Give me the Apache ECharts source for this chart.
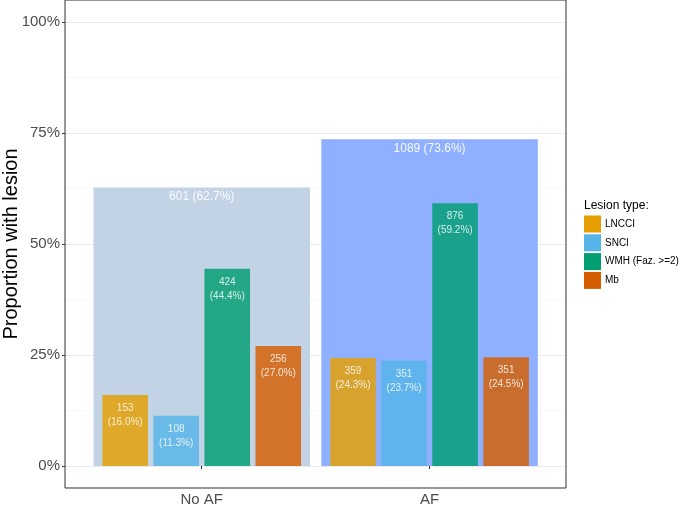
<!DOCTYPE html>
<html>
<head>
<meta charset="utf-8">
<script src="https://cdn.jsdelivr.net/npm/echarts@6/dist/echarts.min.js"></script>
<style>html,body{margin:0;padding:0;background:#fff;}#c{width:685px;height:505px;}</style>
</head>
<body>
<div id="c"></div>
<script>
var categories = ['No AF', 'AF'];
var totalProp = [0.627, 0.736];
var totalCount = [601, 1089];
var lesionTypes = ['LNCCI', 'SNCI', 'WMH (Faz. >=2)', 'Mb'];
var lnccIProp = [0.160, 0.243];
var lnccICount = [153, 359];
var snciProp = [0.113, 0.237];
var snciCount = [108, 351];
var wmhProp = [0.444, 0.592];
var wmhCount = [424, 876];
var mbProp = [0.270, 0.245];
var mbCount = [256, 351];
var yTicks = [0, 0.25, 0.5, 0.75, 1];

var colors = ['#E69F00', '#56B4E9', '#009E73', '#D55E00'];
var props = [lnccIProp, snciProp, wmhProp, mbProp];
var counts = [lnccICount, snciCount, wmhCount, mbCount];

var chart = echarts.init(document.getElementById('c'));

var series = [{
  name: 'total', type: 'bar', xAxisIndex: 2, yAxisIndex: 2,
  barWidth: '95%', silent: true,
  data: totalProp.map(function (v, i) {
    return { value: v, itemStyle: { color: i === 0 ? '#c1d3e4' : '#8fb0fe' } };
  }),
  label: {
    show: true, position: 'insideTop', distance: 3,
    color: 'rgba(255,255,255,0.92)', fontSize: 12, fontFamily: 'Liberation Sans, Arial',
    formatter: function (p) { return totalCount[p.dataIndex] + ' (' + (totalProp[p.dataIndex] * 100).toFixed(1) + '%)'; }
  },
  z: 1
}];
lesionTypes.forEach(function (name, k) {
  series.push({
    name: name, type: 'bar', xAxisIndex: 1, yAxisIndex: 1,
    barWidth: '20%', barGap: '12%',
    itemStyle: { color: colors[k], opacity: 0.82 },
    data: props[k],
    label: {
      show: true, position: 'insideTop', distance: 6,
      color: '#ffffff', fontSize: 10, lineHeight: 14, fontFamily: 'Liberation Sans, Arial',
      formatter: function (p) { return counts[k][p.dataIndex] + '\n(' + (props[k][p.dataIndex] * 100).toFixed(1) + '%)'; }
    },
    z: 3
  });
});

chart.setOption({
  animation: false,
  title: {
    text: 'Lesion type:', left: 584, top: 200, padding: 0,
    textStyle: { fontSize: 12, fontWeight: 'normal', color: '#000', fontFamily: 'Liberation Sans, Arial' }
  },
  legend: {
    data: lesionTypes, orient: 'vertical', left: 584, top: 215.5, padding: 0,
    itemWidth: 17, itemHeight: 17, itemGap: 1.8, icon: 'rect',
    itemStyle: { opacity: 1 },
    textStyle: { fontSize: 10, color: '#000', fontFamily: 'Liberation Sans, Arial', padding: [0, 0, 0, -1] },
    selectedMode: false
  },
  grid: [
    { left: 65, right: 119, top: 22, bottom: 39, show: false, outerBoundsMode: 'none', containLabel: false },
    { left: 87.8, right: 141.5, top: 22, bottom: 39, show: false, outerBoundsMode: 'none', containLabel: false },
    { left: 65, right: 119, top: 0, bottom: 17, show: true, borderColor: '#333', borderWidth: 1, backgroundColor: 'transparent', z: 5, outerBoundsMode: 'none', containLabel: false }
  ],
  xAxis: [
    { gridIndex: 0, type: 'value', show: false, min: 0, max: 1 },
    { gridIndex: 1, type: 'category', data: categories, offset: 22,
      axisLine: { show: false },
      axisTick: { show: true, alignWithLabel: true, length: 3, lineStyle: { color: '#333' } },
      axisLabel: { fontSize: 15, color: '#4d4d4d', margin: 4, fontFamily: 'Liberation Sans, Arial' } },
    { gridIndex: 1, type: 'category', data: categories, show: false },
    { gridIndex: 2, type: 'value', show: false }
  ],
  yAxis: [
    { gridIndex: 0, type: 'value', min: 0, max: 1, interval: 0.25,
      name: 'Proportion with lesion', nameLocation: 'middle', nameGap: 44, nameMoveOverlap: false,
      nameTextStyle: { fontSize: 20, color: '#000', fontFamily: 'Liberation Sans, Arial' },
      axisLine: { show: false },
      axisTick: { show: true, length: 3, lineStyle: { color: '#333' } },
      axisLabel: { fontSize: 15, color: '#4d4d4d', margin: 5, fontFamily: 'Liberation Sans, Arial',
        formatter: function (v) { return Math.round(v * 100) + '%'; } },
      splitLine: { show: true, lineStyle: { color: '#ebebeb', width: 1 } },
      minorTick: { show: false, splitNumber: 2 },
      minorSplitLine: { show: true, lineStyle: { color: '#f3f3f3', width: 0.6 } }
    },
    { gridIndex: 1, type: 'value', min: 0, max: 1, show: false },
    { gridIndex: 1, type: 'value', min: 0, max: 1, show: false },
    { gridIndex: 2, type: 'value', show: false }
  ],
  series: series
});
</script>
</body>
</html>
